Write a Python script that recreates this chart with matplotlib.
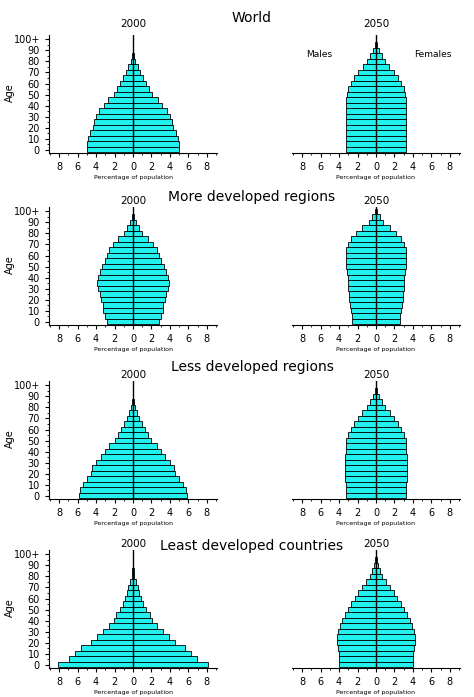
import matplotlib.pyplot as plt
import numpy as np

ages = list(range(0, 105, 5))  # 0..100+

# percentage of population per 5-year age group (same on male and female side)
world_2000 = [5.0, 5.0, 4.9, 4.7, 4.3, 4.2, 4.0, 3.7, 3.1, 2.7, 2.1, 1.7, 1.4, 1.1, 0.8, 0.5, 0.25, 0.1, 0.05, 0.02, 0.01]
world_2050 = [3.3, 3.3, 3.3, 3.3, 3.3, 3.3, 3.3, 3.3, 3.3, 3.2, 3.1, 3.0, 2.7, 2.4, 2.0, 1.4, 1.0, 0.6, 0.3, 0.1, 0.05]
more_2000 = [2.8, 3.0, 3.2, 3.3, 3.5, 3.6, 3.8, 3.9, 3.8, 3.6, 3.4, 3.0, 2.8, 2.6, 2.2, 1.6, 1.0, 0.6, 0.3, 0.1, 0.03]
more_2050 = [2.6, 2.6, 2.7, 2.8, 2.9, 2.9, 3.0, 3.0, 3.0, 3.1, 3.2, 3.3, 3.3, 3.2, 3.0, 2.7, 2.2, 1.5, 0.8, 0.4, 0.15]
less_2000 = [5.8, 5.7, 5.4, 5.0, 4.6, 4.4, 4.0, 3.5, 3.0, 2.6, 2.0, 1.6, 1.3, 1.0, 0.7, 0.45, 0.25, 0.1, 0.04, 0.01, 0.005]
less_2050 = [3.3, 3.3, 3.3, 3.4, 3.4, 3.4, 3.4, 3.4, 3.3, 3.3, 3.2, 3.0, 2.7, 2.4, 2.0, 1.5, 1.0, 0.6, 0.3, 0.1, 0.04]
least_2000 = [8.1, 6.9, 6.3, 5.6, 4.6, 3.9, 3.2, 2.6, 2.1, 1.8, 1.4, 1.1, 0.9, 0.7, 0.5, 0.3, 0.15, 0.06, 0.02, 0.01, 0.005]
least_2050 = [4.0, 4.0, 4.0, 4.1, 4.2, 4.2, 4.1, 3.9, 3.7, 3.4, 3.0, 2.7, 2.3, 1.9, 1.5, 1.1, 0.7, 0.4, 0.2, 0.07, 0.02]

regions = ['World', 'More developed regions', 'Less developed regions', 'Least developed countries']
data = [(world_2000, world_2050), (more_2000, more_2050),
        (less_2000, less_2050), (least_2000, least_2050)]
years = ['2000', '2050']

W, H = 474, 697
fig = plt.figure(figsize=(W / 100, H / 100), dpi=100)

bottoms = [153, 325, 499, 668]  # px from top, axes bottom
title_y = [18, 197, 367, 546]   # px from top, region title
ax_h = 118
lefts = [49, 292]
ax_w = 168
ytick_labels = ['0', '10', '20', '30', '40', '50', '60', '70', '80', '90', '100+']

for r, region in enumerate(regions):
    yb = bottoms[r]
    fig.text(252 / W, 1 - title_y[r] / H, region, ha='center', va='center', fontsize=10)
    fig.text(10 / W, 1 - (yb - 60) / H, 'Age', rotation=90, ha='center', va='center', fontsize=7)
    for c in range(2):
        vals = data[r][c]
        ax = fig.add_axes([lefts[c] / W, 1 - yb / H, ax_w / W, ax_h / H])
        ax.barh(ages, [-v for v in vals], height=5, color='#22f0ec', edgecolor='black', linewidth=0.6)
        ax.barh(ages, vals, height=5, color='#22f0ec', edgecolor='black', linewidth=0.6)
        ax.axvline(0, color='black', linewidth=1)
        ax.set_xlim(-9.1, 9.1)
        ax.set_ylim(-3, 104)
        for s in ['top', 'right']:
            ax.spines[s].set_visible(False)
        ax.set_xticks([-8, -6, -4, -2, 0, 2, 4, 6, 8])
        ax.set_xticklabels(['8', '6', '4', '2', '0', '2', '4', '6', '8'], fontsize=7)
        ax.set_yticks(np.arange(0, 101, 10))
        ax.set_yticks(np.arange(0, 101, 5), minor=True)
        ax.set_xticks(np.arange(-9, 9.1, 1), minor=True)
        ax.tick_params(length=3, width=0.8)
        ax.tick_params(which='minor', length=1.5)
        if c == 0:
            ax.set_yticklabels(ytick_labels, fontsize=7)
        else:
            ax.spines['left'].set_visible(False)
            ax.set_yticks([])
            ax.set_yticks([], minor=True)
        ax.set_xlabel('Percentage of population', fontsize=4.5, labelpad=2)
        ax.set_title(years[c], fontsize=7.5, pad=2 if r else 6)
        if r == 0 and c == 1:
            ax.text(-6.2, 84, 'Males', ha='center', fontsize=6.5)
            ax.text(6.2, 84, 'Females', ha='center', fontsize=6.5)

fig.savefig('out.png', dpi=100)
